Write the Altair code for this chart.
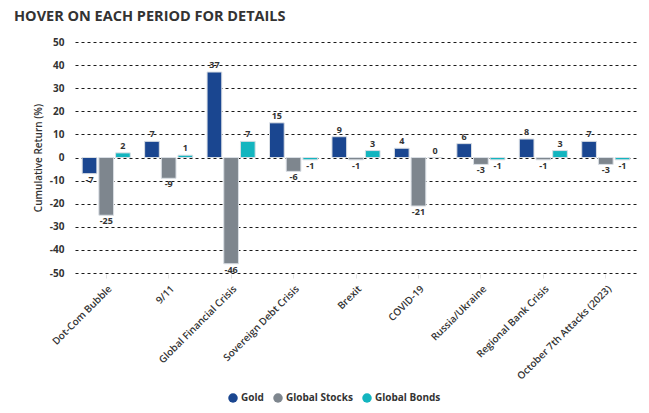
import altair as alt
import pandas as pd

# Cumulative returns (%) by crisis period and asset class
periods = [
    "Dot-Com Bubble",
    "9/11",
    "Global Financial Crisis",
    "Sovereign Debt Crisis",
    "Brexit",
    "COVID-19",
    "Russia/Ukraine",
    "Regional Bank Crisis",
    "October 7th Attacks (2023)",
]
gold = [-7, 7, 37, 15, 9, 4, 6, 8, 7]
global_stocks = [-25, -9, -46, -6, -1, -21, -3, -1, -3]
global_bonds = [2, 1, 7, -1, 3, 0, -1, 3, -1]

series_names = ["Gold", "Global Stocks", "Global Bonds"]
series_colors = ["#1a4690", "#7e868e", "#13b5bf"]
y_ticks = [-50, -40, -30, -20, -10, 0, 10, 20, 30, 40, 50]

rows = []
for name, values in zip(series_names, [gold, global_stocks, global_bonds]):
    for p, v in zip(periods, values):
        rows.append({"period": p, "series": name, "value": v})
df = pd.DataFrame(rows)

FONT = "Open Sans"
TXT = "#333333"

x_enc = alt.X(
    "period:N",
    sort=periods,
    scale=alt.Scale(paddingInner=0.23, paddingOuter=0.115),
    axis=alt.Axis(
        title=None,
        labelAngle=-45,
        labelAlign="right",
        labelBaseline="middle",
        labelFont=FONT,
        labelFontSize=10,
        labelFontWeight=600,
        labelColor=TXT,
        labelPadding=9,
        labelOffset=4,
        domain=False,
        ticks=True,
        tickSize=4,
        tickColor="#e3e3e3",
        offset=1,
        grid=False,
    ),
)
xoff_enc = alt.XOffset(
    "series:N", sort=series_names, scale=alt.Scale(paddingInner=0.12)
)
y_enc = alt.Y(
    "value:Q",
    scale=alt.Scale(domain=[-50, 50], nice=False),
    axis=alt.Axis(
        title="Cumulative Return (%)",
        titleFont=FONT,
        titleFontSize=10,
        titleFontWeight=600,
        titleColor=TXT,
        titlePadding=6,
        values=y_ticks,
        labelExpr="'' + datum.value",
        labelFont=FONT,
        labelFontSize=10,
        labelFontWeight="bold",
        labelColor=TXT,
        labelPadding=11,
        domain=False,
        ticks=False,
        grid=True,
        gridColor="#1a1a1a",
        gridDash=[3, 3],
        gridWidth=1,
    ),
)
color_enc = alt.Color(
    "series:N",
    sort=series_names,
    scale=alt.Scale(domain=series_names, range=series_colors),
    legend=alt.Legend(
        title=None,
        orient="none",
        direction="horizontal",
        legendX=153,
        legendY=351,
        symbolType="circle",
        symbolSize=90,
        symbolStrokeWidth=0,
        labelFont=FONT,
        labelFontSize=10,
        labelFontWeight="bold",
        labelColor=TXT,
        labelOffset=3,
        columnPadding=9,
    ),
)

base = alt.Chart(df).transform_calculate(label="'' + datum.value")

bars = base.mark_bar(stroke="#d9dee4", strokeWidth=1).encode(
    x=x_enc, xOffset=xoff_enc, y=y_enc, color=color_enc
)

label_style = dict(font=FONT, fontSize=9, fontWeight="bold", color=TXT)

pos_labels = (
    base.transform_filter("datum.value >= 0")
    .mark_text(baseline="bottom", dy=-2, **label_style)
    .encode(x=x_enc, xOffset=xoff_enc, y=y_enc, text="label:N")
)
neg_labels = (
    base.transform_filter("datum.value < 0")
    .mark_text(baseline="top", dy=2, **label_style)
    .encode(x=x_enc, xOffset=xoff_enc, y=y_enc, text="label:N")
)

chart = (
    alt.layer(bars, pos_labels, neg_labels)
    .properties(
        width=562,
        height=231,
        background="white",
        autosize=alt.AutoSizeParams(type="none"),
        padding={"left": 75, "top": 42, "right": 12, "bottom": 140},
        title=alt.TitleParams(
            "HOVER ON EACH PERIOD FOR DETAILS",
            anchor="start",
            frame="group",
            dx=-61,
            offset=13,
            font=FONT,
            fontSize=14.5,
            fontWeight="bold",
            color=TXT,
        ),
    )
    .configure_view(strokeWidth=0)
)

chart.save("out.html", embed_options={"renderer": "svg", "actions": False})
